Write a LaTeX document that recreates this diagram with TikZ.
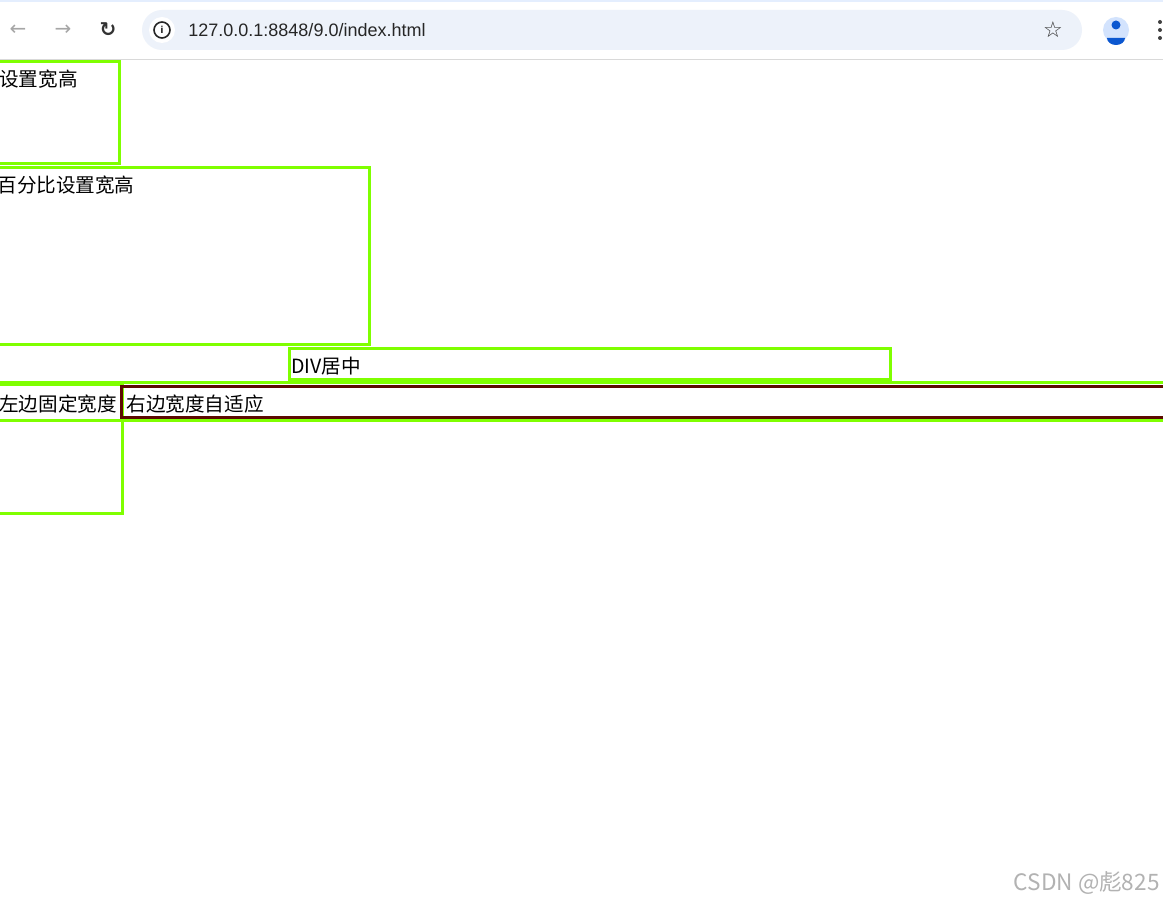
\documentclass[tikz,border=0pt]{standalone}
\usepackage{fontspec}
\setmainfont{Noto Sans CJK SC}
\newfontfamily\urlfont{Liberation Sans}
\newfontfamily\symfont{DejaVu Sans}
\definecolor{lime}{HTML}{7FFF00}
\definecolor{maroon}{HTML}{5C0A00}
\definecolor{barbg}{HTML}{EDF2FA}
\definecolor{avbg}{HTML}{D3E3FD}
\definecolor{avfg}{HTML}{0B57D0}
\tikzset{gbox/.style={draw=lime,line width=1.5pt},
rbox/.style={draw=maroon,line width=1.5pt},
lbl/.style={anchor=west,inner sep=0pt,font=\fontsize{9.8}{10}\selectfont}}
\begin{document}
\begin{tikzpicture}[x=0.5pt,y=-0.5pt]
\useasboundingbox (0,0) rectangle (1163,903);
\fill[white] (0,0) rectangle (1163,903);
\fill[avbg!60] (0,0) rectangle (1163,2);
\draw[gray!30,line width=0.5pt] (0,59.5) -- (1163,59.5);
% toolbar
\fill[barbg,rounded corners=10pt] (142,10) rectangle (1082,50);
\node[circle,fill=white,minimum size=13pt,inner sep=0pt] (info) at (162,30) {};
\node[circle,draw=black!85,line width=0.8pt,minimum size=8pt,inner sep=0pt,font=\fontsize{5}{5}\selectfont\bfseries\urlfont] at (info) {i};
\node[anchor=west,inner sep=0pt,font=\fontsize{9}{10}\selectfont\urlfont,text=black!85] (url) at (188,30) {127.0.0.1:8848/9.0/index.html};
\node[font=\fontsize{10}{10}\selectfont\symfont,text=gray!70] (back) at (18,30) {←};
\node[font=\fontsize{10}{10}\selectfont\symfont,text=gray!70] (fwd) at (63,30) {→};
\node[font=\fontsize{10}{10}\selectfont\symfont\bfseries,text=black!80] (rel) at (108,30) {↻};
\node[font=\fontsize{11}{11}\selectfont\symfont,text=black!80] (star) at (1053,30) {☆};
\node[circle,fill=avbg,minimum size=13pt,inner sep=0pt] (av) at (1116,30) {};
\fill[avfg] (1116,25) circle (4.5);
\fill[avfg] (1107,38) arc (180:0:9 and 7) -- cycle;
\foreach \yy in {22,30,38} \fill[black!75] (1160,\yy) circle (2);
% boxes
\draw[gbox] (-5,61.5) rectangle (119.5,163.5);
\node[lbl] (t1) at (-1,79) {设置宽高};
\draw[gbox] (-5,167.5) rectangle (369.5,344.5);
\node[lbl] (t2) at (-3,185) {百分比设置宽高};
\draw[gbox] (289.5,349) rectangle (890.5,379.5);
\node[lbl] (t3) at (291,366) {DIV居中};
\draw[gbox] (-5,383) rectangle (1170,420.5);
\draw[gbox] (-5,385) rectangle (122,514);
\draw[rbox] (121.5,387) rectangle (1170,418);
\node[lbl] (t4) at (-1,404) {左边固定宽度};
\node[lbl] (t5) at (126,404) {右边宽度自适应};
\node[anchor=east,inner sep=0pt,font=\fontsize{11.3}{12}\selectfont,text=black!30] (wm) at (1160,883) {CSDN @彪825};
\end{tikzpicture}
\end{document}
